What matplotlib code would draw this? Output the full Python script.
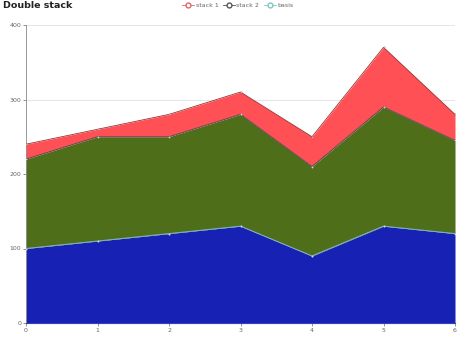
import matplotlib
matplotlib.use('Agg')
import matplotlib.pyplot as plt
from matplotlib.lines import Line2D
import numpy as np

x = [0, 1, 2, 3, 4, 5, 6]
basis = [100, 110, 120, 130, 90, 130, 120]
stack2 = [120, 140, 130, 150, 120, 160, 125]
stack1 = [20, 10, 30, 30, 40, 80, 35]

BLUE = "#1721B4"
GREEN = "#4E6E1A"
RED = "#FF4A50"

b = np.array(basis)
s2 = b + np.array(stack2)
s1 = s2 + np.array(stack1)

fig = plt.figure(figsize=(4.74, 3.42), dpi=100)
ax = fig.add_axes([26/474, 1 - 323/342, 429/474, 298/342])

ax.fill_between(x, 0, b, color=BLUE, lw=0, zorder=2)
ax.fill_between(x, b, s2, color=GREEN, lw=0, zorder=2)
ax.fill_between(x, s2, s1, color=RED, lw=0, alpha=0.97, zorder=2)

ax.plot(x, b, color="#7FB3D5", lw=0.7, marker="o", ms=1.2, mfc="#DDDDDD", mec="#AAAAAA", mew=0.3, zorder=3)
ax.plot(x, s2, color="#555555", lw=0.7, marker="o", ms=1.2, mfc="#DDDDDD", mec="#888888", mew=0.3, zorder=3)
ax.plot(x, s1, color="#9A2E2E", lw=0.6, marker="o", ms=1.0, mfc="#DDDDDD", mec="#AA6666", mew=0.3, zorder=3)

ax.set_xlim(0, 6)
ax.set_ylim(0, 400)
ax.set_yticks([0, 100, 200, 300, 400])
ax.set_xticks(x)
ax.grid(axis="y", color="#E0E0E0", lw=0.6, zorder=0)
ax.tick_params(labelsize=4.5, colors="#666666", length=2, width=0.5, pad=1.5)
for sp in ["top", "right"]:
    ax.spines[sp].set_visible(False)
ax.spines["left"].set_color("#888888")
ax.spines["left"].set_linewidth(0.6)
ax.spines["bottom"].set_color("#3040C0")
ax.spines["bottom"].set_linewidth(0.8)

fig.text(3/474, 1 - 6/342, "Double stack", fontsize=6.8, fontweight="bold",
         color="#222222", ha="left", va="center")

handles = [
    Line2D([], [], color="#E06666", lw=0.6, marker="o", ms=3.5, mfc="white", mec="#E06666"),
    Line2D([], [], color="#555555", lw=0.6, marker="o", ms=3.5, mfc="white", mec="#555555"),
    Line2D([], [], color="#7FC4C4", lw=0.6, marker="o", ms=3.5, mfc="white", mec="#7FC4C4"),
]
fig.legend(handles, ["stack 1", "stack 2", "basis"], loc="center",
           bbox_to_anchor=(238/474, 1 - 5/342), ncol=3, frameon=False,
           fontsize=4.5, handlelength=1.8, columnspacing=0.8, handletextpad=0.3,
           labelcolor="#666666")

fig.savefig("out.png", dpi=100, facecolor="white")
